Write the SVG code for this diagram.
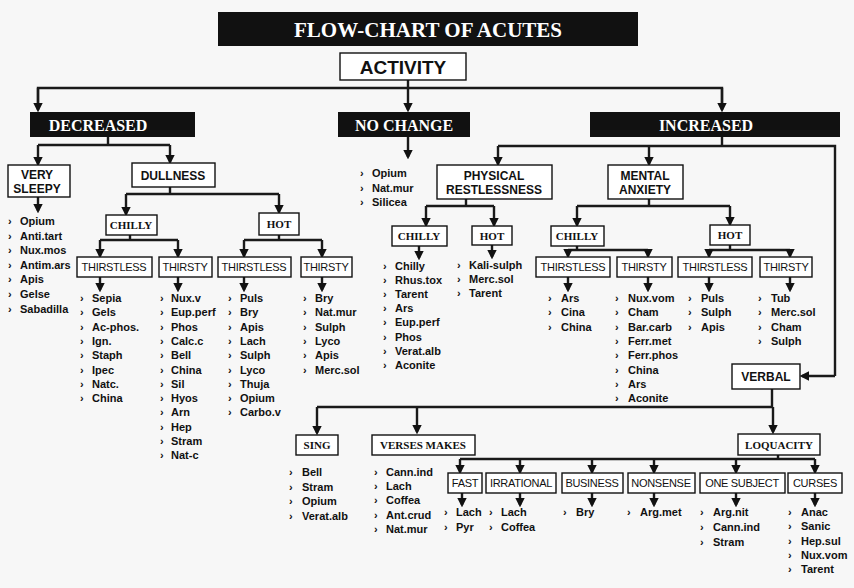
<svg xmlns="http://www.w3.org/2000/svg" width="854" height="588" viewBox="0 0 854 588">
<defs>
<marker id="a" markerWidth="4" markerHeight="4" refX="3" refY="2" orient="auto" markerUnits="strokeWidth"><path d="M0,0 L4,2 L0,4 z" fill="#111"/></marker>
<style>
.c{fill:none;stroke:#1a1a1a;stroke-width:2.4}
.ar{marker-end:url(#a)}
.bx{fill:#fff;stroke:#111;stroke-width:1.4}
.bk{fill:#111}
.t{font-family:"Liberation Serif",serif;font-weight:bold;fill:#fff;text-anchor:middle}
.s{font-family:"Liberation Sans",sans-serif;font-weight:bold;font-size:12px;fill:#111;text-anchor:middle}
.r{font-family:"Liberation Sans",sans-serif;font-size:11px;fill:#111;text-anchor:middle;letter-spacing:-0.3px}
.v{font-family:"Liberation Serif",serif;font-weight:bold;font-size:11px;fill:#111;text-anchor:middle}
.l{font-family:"Liberation Sans",sans-serif;font-weight:bold;font-size:11px;fill:#111}
</style>
</defs>
<rect width="854" height="588" fill="#f7f7f7"/>
<g id="connectors">
<path class="c" d="M408,80 V88 M38,108 V88 H722 V108"/>
<path class="c ar" d="M38,88 V110"/><path class="c ar" d="M408,88 V110"/><path class="c ar" d="M722,88 V110"/>
<path class="c" d="M108,137 V145 M38,145 H170"/>
<path class="c ar" d="M38,145 V164"/><path class="c ar" d="M170,145 V162"/>
<path class="c ar" d="M38,197 V211"/>
<path class="c" d="M170,187 V194 M126,194 H279"/>
<path class="c ar" d="M126,194 V214"/><path class="c ar" d="M279,194 V212"/>
<path class="c" d="M130,235 V240 M100,240 H178"/>
<path class="c ar" d="M100,240 V256"/><path class="c ar" d="M178,240 V256"/>
<path class="c" d="M279,235 V240 M244,240 H322"/>
<path class="c ar" d="M244,240 V256"/><path class="c ar" d="M322,240 V256"/>
<path class="c ar" d="M100,277 V290"/><path class="c ar" d="M178,277 V290"/><path class="c ar" d="M244,277 V290"/><path class="c ar" d="M322,277 V290"/>
<path class="c ar" d="M408,137 V157"/>
<path class="c" d="M722,137 V146 M498,146 H835 V376"/>
<path class="c ar" d="M498,146 V164"/><path class="c ar" d="M649,146 V164"/><path class="c ar" d="M835,376 H802"/>
<path class="c" d="M466,199 V206 M426,206 H494"/>
<path class="c ar" d="M426,206 V225"/><path class="c ar" d="M494,206 V225"/>
<path class="c ar" d="M419,246 V258"/><path class="c ar" d="M492,245 V257"/>
<path class="c" d="M649,199 V206 M577,206 H730"/>
<path class="c ar" d="M577,206 V225"/><path class="c ar" d="M730,206 V224"/>
<path class="c" d="M577,246 V250 M568,250 H648"/>
<path class="c ar" d="M568,250 V256"/><path class="c ar" d="M648,250 V256"/>
<path class="c" d="M730,245 V250 M709,250 H790"/>
<path class="c ar" d="M709,250 V256"/><path class="c ar" d="M790,250 V256"/>
<path class="c ar" d="M568,277 V290"/><path class="c ar" d="M648,277 V290"/><path class="c ar" d="M709,277 V290"/><path class="c ar" d="M790,277 V290"/>
<path class="c" d="M772,389 V407 M317,407 H772"/>
<path class="c ar" d="M317,407 V433"/><path class="c ar" d="M417,407 V432"/><path class="c ar" d="M773,407 V432"/>
<path class="c" d="M778,455 V459 M460,459 H815"/>
<path class="c ar" d="M460,459 V472"/><path class="c ar" d="M520,459 V472"/><path class="c ar" d="M592,459 V472"/><path class="c ar" d="M654,459 V472"/><path class="c ar" d="M736,459 V472"/><path class="c ar" d="M815,459 V472"/>
<path class="c ar" d="M462,493 V505"/><path class="c ar" d="M520,493 V505"/><path class="c ar" d="M592,493 V505"/><path class="c ar" d="M654,493 V505"/><path class="c ar" d="M736,493 V505"/><path class="c ar" d="M815,493 V505"/>
</g>
<g id="title"><rect class="bk" x="218" y="12" width="420" height="34"/><text class="t" x="428" y="37" style="font-size:21px">FLOW-CHART OF ACUTES</text></g>
<g id="activity"><rect class="bx" x="340" y="53" width="126" height="27" stroke-width="2"/><text class="s" x="403" y="74" style="font-size:19px">ACTIVITY</text></g>
<g id="decreased"><rect class="bk" x="30" y="112" width="165" height="25"/><text class="t" x="98" y="131" style="font-size:16px">DECREASED</text></g>
<g id="nochange"><rect class="bk" x="338" y="112" width="132" height="25"/><text class="t" x="404" y="131" style="font-size:16px">NO CHANGE</text></g>
<g id="increased"><rect class="bk" x="590" y="112" width="250" height="25"/><text class="t" x="706" y="131" style="font-size:16px">INCREASED</text></g>
<g id="verysleepy"><rect class="bx" x="8" y="165" width="62" height="32"/><text class="s" x="37" y="179">VERY</text><text class="s" x="37" y="193">SLEEPY</text></g>
<g id="dullness"><rect class="bx" x="132" y="163" width="83" height="24"/><text class="s" x="173" y="180">DULLNESS</text></g>
<g id="d-chilly"><rect class="bx" x="106" y="215" width="51" height="20"/><text class="v" x="131" y="229">CHILLY</text></g>
<g id="d-hot"><rect class="bx" x="259" y="213" width="40" height="22"/><text class="v" x="279" y="228">HOT</text></g>
<g id="d-c-tl"><rect class="bx" x="77" y="257" width="75" height="20"/><text class="r" x="114" y="271">THIRSTLESS</text></g>
<g id="d-c-ty"><rect class="bx" x="159" y="257" width="53" height="20"/><text class="r" x="185" y="271">THIRSTY</text></g>
<g id="d-h-tl"><rect class="bx" x="218" y="257" width="73" height="20"/><text class="r" x="254" y="271">THIRSTLESS</text></g>
<g id="d-h-ty"><rect class="bx" x="301" y="257" width="51" height="20"/><text class="r" x="326" y="271">THIRSTY</text></g>
<g id="physical"><rect class="bx" x="437" y="165" width="115" height="34"/><text class="s" x="494" y="180">PHYSICAL</text><text class="s" x="494" y="194">RESTLESSNESS</text></g>
<g id="mental"><rect class="bx" x="608" y="165" width="75" height="34"/><text class="s" x="645" y="180">MENTAL</text><text class="s" x="645" y="194">ANXIETY</text></g>
<g id="p-chilly"><rect class="bx" x="392" y="226" width="55" height="20"/><text class="v" x="419" y="240">CHILLY</text></g>
<g id="p-hot"><rect class="bx" x="472" y="226" width="40" height="19"/><text class="v" x="492" y="240">HOT</text></g>
<g id="m-chilly"><rect class="bx" x="551" y="226" width="53" height="20"/><text class="v" x="577" y="240">CHILLY</text></g>
<g id="m-hot"><rect class="bx" x="710" y="225" width="40" height="20"/><text class="v" x="730" y="239">HOT</text></g>
<g id="m-c-tl"><rect class="bx" x="536" y="257" width="74" height="20"/><text class="r" x="573" y="271">THIRSTLESS</text></g>
<g id="m-c-ty"><rect class="bx" x="617" y="257" width="55" height="20"/><text class="r" x="644" y="271">THIRSTY</text></g>
<g id="m-h-tl"><rect class="bx" x="678" y="257" width="74" height="20"/><text class="r" x="715" y="271">THIRSTLESS</text></g>
<g id="m-h-ty"><rect class="bx" x="760" y="257" width="52" height="20"/><text class="r" x="786" y="271">THIRSTY</text></g>
<g id="verbal"><rect class="bx" x="732" y="364" width="68" height="25"/><text class="s" x="766" y="381">VERBAL</text></g>
<g id="sing"><rect class="bx" x="296" y="435" width="42" height="20"/><text class="v" x="317" y="449">SING</text></g>
<g id="verses"><rect class="bx" x="372" y="435" width="103" height="20"/><text class="v" x="423" y="449">VERSES MAKES</text></g>
<g id="loquacity"><rect class="bx" x="738" y="434" width="82" height="21"/><text class="v" x="779" y="449">LOQUACITY</text></g>
<g id="fast"><rect class="bx" x="448" y="473" width="34" height="20"/><text class="r" x="465" y="487">FAST</text></g>
<g id="irrational"><rect class="bx" x="486" y="473" width="70" height="20"/><text class="r" x="521" y="487">IRRATIONAL</text></g>
<g id="business"><rect class="bx" x="562" y="473" width="61" height="20"/><text class="r" x="592" y="487">BUSINESS</text></g>
<g id="nonsense"><rect class="bx" x="628" y="473" width="67" height="20"/><text class="r" x="661" y="487">NONSENSE</text></g>
<g id="onesubject"><rect class="bx" x="700" y="473" width="85" height="20"/><text class="r" x="742" y="487">ONE SUBJECT</text></g>
<g id="curses"><rect class="bx" x="788" y="473" width="54" height="20"/><text class="r" x="815" y="487">CURSES</text></g>
<g id="lists" class="l">
<text x="8" y="225"><tspan>›</tspan><tspan x="8" dy="14.6">›</tspan><tspan x="8" dy="14.6">›</tspan><tspan x="8" dy="14.6">›</tspan><tspan x="8" dy="14.6">›</tspan><tspan x="8" dy="14.6">›</tspan><tspan x="8" dy="14.6">›</tspan></text>
<text x="20" y="225"><tspan>Opium</tspan><tspan x="20" dy="14.6">Anti.tart</tspan><tspan x="20" dy="14.6">Nux.mos</tspan><tspan x="20" dy="14.6">Antim.ars</tspan><tspan x="20" dy="14.6">Apis</tspan><tspan x="20" dy="14.6">Gelse</tspan><tspan x="20" dy="14.6">Sabadilla</tspan></text>
<text x="80" y="302"><tspan>›</tspan><tspan x="80" dy="14.3">›</tspan><tspan x="80" dy="14.3">›</tspan><tspan x="80" dy="14.3">›</tspan><tspan x="80" dy="14.3">›</tspan><tspan x="80" dy="14.3">›</tspan><tspan x="80" dy="14.3">›</tspan><tspan x="80" dy="14.3">›</tspan></text>
<text x="92" y="302"><tspan>Sepia</tspan><tspan x="92" dy="14.3">Gels</tspan><tspan x="92" dy="14.3">Ac-phos.</tspan><tspan x="92" dy="14.3">Ign.</tspan><tspan x="92" dy="14.3">Staph</tspan><tspan x="92" dy="14.3">Ipec</tspan><tspan x="92" dy="14.3">Natc.</tspan><tspan x="92" dy="14.3">China</tspan></text>
<text x="160" y="302"><tspan>›</tspan><tspan x="160" dy="14.3">›</tspan><tspan x="160" dy="14.3">›</tspan><tspan x="160" dy="14.3">›</tspan><tspan x="160" dy="14.3">›</tspan><tspan x="160" dy="14.3">›</tspan><tspan x="160" dy="14.3">›</tspan><tspan x="160" dy="14.3">›</tspan><tspan x="160" dy="14.3">›</tspan><tspan x="160" dy="14.3">›</tspan><tspan x="160" dy="14.3">›</tspan><tspan x="160" dy="14.3">›</tspan></text>
<text x="171" y="302"><tspan>Nux.v</tspan><tspan x="171" dy="14.3">Eup.perf</tspan><tspan x="171" dy="14.3">Phos</tspan><tspan x="171" dy="14.3">Calc.c</tspan><tspan x="171" dy="14.3">Bell</tspan><tspan x="171" dy="14.3">China</tspan><tspan x="171" dy="14.3">Sil</tspan><tspan x="171" dy="14.3">Hyos</tspan><tspan x="171" dy="14.3">Arn</tspan><tspan x="171" dy="14.3">Hep</tspan><tspan x="171" dy="14.3">Stram</tspan><tspan x="171" dy="14.3">Nat-c</tspan></text>
<text x="228" y="302"><tspan>›</tspan><tspan x="228" dy="14.3">›</tspan><tspan x="228" dy="14.3">›</tspan><tspan x="228" dy="14.3">›</tspan><tspan x="228" dy="14.3">›</tspan><tspan x="228" dy="14.3">›</tspan><tspan x="228" dy="14.3">›</tspan><tspan x="228" dy="14.3">›</tspan><tspan x="228" dy="14.3">›</tspan></text>
<text x="240" y="302"><tspan>Puls</tspan><tspan x="240" dy="14.3">Bry</tspan><tspan x="240" dy="14.3">Apis</tspan><tspan x="240" dy="14.3">Lach</tspan><tspan x="240" dy="14.3">Sulph</tspan><tspan x="240" dy="14.3">Lyco</tspan><tspan x="240" dy="14.3">Thuja</tspan><tspan x="240" dy="14.3">Opium</tspan><tspan x="240" dy="14.3">Carbo.v</tspan></text>
<text x="303" y="302"><tspan>›</tspan><tspan x="303" dy="14.3">›</tspan><tspan x="303" dy="14.3">›</tspan><tspan x="303" dy="14.3">›</tspan><tspan x="303" dy="14.3">›</tspan><tspan x="303" dy="14.3">›</tspan></text>
<text x="315" y="302"><tspan>Bry</tspan><tspan x="315" dy="14.3">Nat.mur</tspan><tspan x="315" dy="14.3">Sulph</tspan><tspan x="315" dy="14.3">Lyco</tspan><tspan x="315" dy="14.3">Apis</tspan><tspan x="315" dy="14.3">Merc.sol</tspan></text>
<text x="360" y="177"><tspan>›</tspan><tspan x="360" dy="14.5">›</tspan><tspan x="360" dy="14.5">›</tspan></text>
<text x="372" y="177"><tspan>Opium</tspan><tspan x="372" dy="14.5">Nat.mur</tspan><tspan x="372" dy="14.5">Silicea</tspan></text>
<text x="383" y="270"><tspan>›</tspan><tspan x="383" dy="14.1">›</tspan><tspan x="383" dy="14.1">›</tspan><tspan x="383" dy="14.1">›</tspan><tspan x="383" dy="14.1">›</tspan><tspan x="383" dy="14.1">›</tspan><tspan x="383" dy="14.1">›</tspan><tspan x="383" dy="14.1">›</tspan></text>
<text x="395" y="270"><tspan>Chilly</tspan><tspan x="395" dy="14.1">Rhus.tox</tspan><tspan x="395" dy="14.1">Tarent</tspan><tspan x="395" dy="14.1">Ars</tspan><tspan x="395" dy="14.1">Eup.perf</tspan><tspan x="395" dy="14.1">Phos</tspan><tspan x="395" dy="14.1">Verat.alb</tspan><tspan x="395" dy="14.1">Aconite</tspan></text>
<text x="457" y="269"><tspan>›</tspan><tspan x="457" dy="14">›</tspan><tspan x="457" dy="14">›</tspan></text>
<text x="469" y="269"><tspan>Kali-sulph</tspan><tspan x="469" dy="14">Merc.sol</tspan><tspan x="469" dy="14">Tarent</tspan></text>
<text x="548" y="302"><tspan>›</tspan><tspan x="548" dy="14.3">›</tspan><tspan x="548" dy="14.3">›</tspan></text>
<text x="561" y="302"><tspan>Ars</tspan><tspan x="561" dy="14.3">Cina</tspan><tspan x="561" dy="14.3">China</tspan></text>
<text x="615" y="302"><tspan>›</tspan><tspan x="615" dy="14.3">›</tspan><tspan x="615" dy="14.3">›</tspan><tspan x="615" dy="14.3">›</tspan><tspan x="615" dy="14.3">›</tspan><tspan x="615" dy="14.3">›</tspan><tspan x="615" dy="14.3">›</tspan><tspan x="615" dy="14.3">›</tspan></text>
<text x="628" y="302"><tspan>Nux.vom</tspan><tspan x="628" dy="14.3">Cham</tspan><tspan x="628" dy="14.3">Bar.carb</tspan><tspan x="628" dy="14.3">Ferr.met</tspan><tspan x="628" dy="14.3">Ferr.phos</tspan><tspan x="628" dy="14.3">China</tspan><tspan x="628" dy="14.3">Ars</tspan><tspan x="628" dy="14.3">Aconite</tspan></text>
<text x="688" y="302"><tspan>›</tspan><tspan x="688" dy="14.3">›</tspan><tspan x="688" dy="14.3">›</tspan></text>
<text x="701" y="302"><tspan>Puls</tspan><tspan x="701" dy="14.3">Sulph</tspan><tspan x="701" dy="14.3">Apis</tspan></text>
<text x="758" y="302"><tspan>›</tspan><tspan x="758" dy="14.3">›</tspan><tspan x="758" dy="14.3">›</tspan><tspan x="758" dy="14.3">›</tspan></text>
<text x="771" y="302"><tspan>Tub</tspan><tspan x="771" dy="14.3">Merc.sol</tspan><tspan x="771" dy="14.3">Cham</tspan><tspan x="771" dy="14.3">Sulph</tspan></text>
<text x="289" y="476"><tspan>›</tspan><tspan x="289" dy="14.5">›</tspan><tspan x="289" dy="14.5">›</tspan><tspan x="289" dy="14.5">›</tspan></text>
<text x="302" y="476"><tspan>Bell</tspan><tspan x="302" dy="14.5">Stram</tspan><tspan x="302" dy="14.5">Opium</tspan><tspan x="302" dy="14.5">Verat.alb</tspan></text>
<text x="374" y="476"><tspan>›</tspan><tspan x="374" dy="14.2">›</tspan><tspan x="374" dy="14.2">›</tspan><tspan x="374" dy="14.2">›</tspan><tspan x="374" dy="14.2">›</tspan></text>
<text x="386" y="476"><tspan>Cann.ind</tspan><tspan x="386" dy="14.2">Lach</tspan><tspan x="386" dy="14.2">Coffea</tspan><tspan x="386" dy="14.2">Ant.crud</tspan><tspan x="386" dy="14.2">Nat.mur</tspan></text>
<text x="444" y="516"><tspan>›</tspan><tspan x="444" dy="15">›</tspan></text>
<text x="456" y="516"><tspan>Lach</tspan><tspan x="456" dy="15">Pyr</tspan></text>
<text x="489" y="516"><tspan>›</tspan><tspan x="489" dy="15">›</tspan></text>
<text x="501" y="516"><tspan>Lach</tspan><tspan x="501" dy="15">Coffea</tspan></text>
<text x="563" y="516">›</text><text x="576" y="516">Bry</text>
<text x="627" y="516">›</text><text x="640" y="516">Arg.met</text>
<text x="700" y="516"><tspan>›</tspan><tspan x="700" dy="15">›</tspan><tspan x="700" dy="15">›</tspan></text>
<text x="713" y="516"><tspan>Arg.nit</tspan><tspan x="713" dy="15">Cann.ind</tspan><tspan x="713" dy="15">Stram</tspan></text>
<text x="788" y="516"><tspan>›</tspan><tspan x="788" dy="14.3">›</tspan><tspan x="788" dy="14.3">›</tspan><tspan x="788" dy="14.3">›</tspan><tspan x="788" dy="14.3">›</tspan></text>
<text x="801" y="516"><tspan>Anac</tspan><tspan x="801" dy="14.3">Sanic</tspan><tspan x="801" dy="14.3">Hep.sul</tspan><tspan x="801" dy="14.3">Nux.vom</tspan><tspan x="801" dy="14.3">Tarent</tspan></text>
</g>
</svg>
